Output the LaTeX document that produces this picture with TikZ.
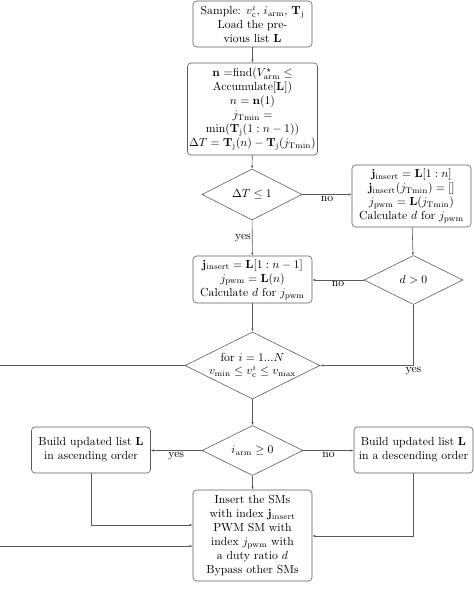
\documentclass[tikz,border=0pt]{standalone}
\usepackage{amsmath}
\usetikzlibrary{shapes.geometric,arrows.meta}
\definecolor{linegray}{HTML}{5A5A5A}
\begin{document}
\begin{tikzpicture}[x=0.855pt,y=-0.855pt,
  procbox/.style={draw=linegray,line width=0.5pt,rounded corners=3pt,align=center,
    inner sep=1.5pt,minimum width=119*0.855pt,text=black},
  decision/.style={draw=linegray,line width=0.5pt,diamond,aspect=2,align=center,inner sep=0pt,text=black},
  conn/.style={draw=linegray,line width=0.5pt,-{Latex[length=2.6pt,width=2pt]}},
  plainline/.style={draw=linegray,line width=0.5pt},
  lbl/.style={font=\normalsize,text=black,inner sep=1pt}]
\useasboundingbox (0,0) rectangle (474,594);

\node[procbox,minimum height=46*0.855pt] (b1) at (252.5,24)
  {Sample: $v_{\mathrm{c}}^{i}$, $i_{\mathrm{arm}}$, $\mathbf{T}_{\mathrm{j}}$\\ Load the pre-\\ vious list $\mathbf{L}$};

\node[procbox,minimum height=92*0.855pt] (b2) at (252.5,109)
  {$\mathbf{n}$ =find($V_{\mathrm{arm}}^{\star}\leq$\\ Accumulate[$\mathbf{L}$])\\ $n=\mathbf{n}(1)$\\ $j_{\mathrm{Tmin}}=$\\ $\min(\mathbf{T}_{\mathrm{j}}(1:n-1))$\\ $\Delta T=\mathbf{T}_{\mathrm{j}}(n)-\mathbf{T}_{\mathrm{j}}(j_{\mathrm{Tmin}})$};

\node[decision,minimum width=100*0.855pt,minimum height=51*0.855pt] (d1) at (252,194.5) {$\Delta T\leq 1$};

\node[procbox,minimum height=62*0.855pt] (b3) at (411.5,196)
  {$\mathbf{j}_{\mathrm{insert}}=\mathbf{L}[1:n]$\\ $\mathbf{j}_{\mathrm{insert}}(j_{\mathrm{Tmin}})=[]$\\ $j_{\mathrm{pwm}}=\mathbf{L}(j_{\mathrm{Tmin}})$\\ Calculate $d$ for $j_{\mathrm{pwm}}$};

\node[decision,minimum width=99*0.855pt,minimum height=49*0.855pt] (d2) at (413.5,280) {$d>0$};

\node[procbox,minimum height=47*0.855pt] (b4) at (252.5,279.5)
  {$\mathbf{j}_{\mathrm{insert}}=\mathbf{L}[1:n-1]$\\ $j_{\mathrm{pwm}}=\mathbf{L}(n)$\\ Calculate $d$ for $j_{\mathrm{pwm}}$};

\node[decision,minimum width=135*0.855pt,minimum height=67*0.855pt,inner sep=-4pt] (d3) at (252.5,365.5)
  {for $i=1...N$\\[-1pt] $v_{\min}\leq v_{\mathrm{c}}^{i}\leq v_{\max}$};

\node[decision,minimum width=101*0.855pt,minimum height=50*0.855pt] (d4) at (252.5,450.5) {$i_{\mathrm{arm}}\geq 0$};

\node[procbox,minimum height=46*0.855pt] (b5) at (91,450)
  {Build updated list $\mathbf{L}$\\ in ascending order};
\node[procbox,minimum height=46*0.855pt] (b6) at (413.5,450)
  {Build updated list $\mathbf{L}$\\ in a descending order};

\node[procbox,minimum height=91*0.855pt] (b7) at (252.5,535.5)
  {Insert the SMs\\ with index $\mathbf{j}_{\mathrm{insert}}$\\ PWM SM with\\ index $j_{\mathrm{pwm}}$ with\\ a duty ratio $d$\\ Bypass other SMs};

\coordinate (lout) at (-10,365.5);
\coordinate (lin) at (-10,546);
\coordinate (c2) at (413.5,365.5);
\coordinate (c5) at (91,525);
\coordinate (c6) at (413.5,536);

\draw[conn] (b1) -- (b2);
\draw[conn] (b2) -- (d1);
\draw[conn] (d1.east) -- node[lbl,below,pos=0.5] {no} (b3.west |- d1.east);
\draw[conn] (d1) -- node[lbl,left,pos=0.5] {yes} (b4);
\draw[conn] (b3) -- (d2);
\draw[conn] (d2.west) -- node[lbl,below,pos=0.5] {no} (b4.east |- d2.west);
\draw[plainline] (d2.south) -- (c2);
\draw[conn] (c2) -- node[lbl,below,pos=0] {yes} (d3.east);
\draw[conn] (b4) -- (d3);
\draw[plainline] (d3.west) -- (lout);
\draw[conn] (d3) -- (d4);
\draw[conn] (d4.west) -- node[lbl,below,pos=0.5] {yes} (b5.east |- d4.west);
\draw[conn] (d4.east) -- node[lbl,below,pos=0.5] {no} (b6.west |- d4.east);
\draw[conn] (d4) -- (b7);
\draw[conn] (b5.south) |- (b7.west |- c5);
\draw[conn] (b6.south) |- (b7.east |- c6);
\draw[conn] (lin) -- (b7.west |- lin);
\end{tikzpicture}
\end{document}
